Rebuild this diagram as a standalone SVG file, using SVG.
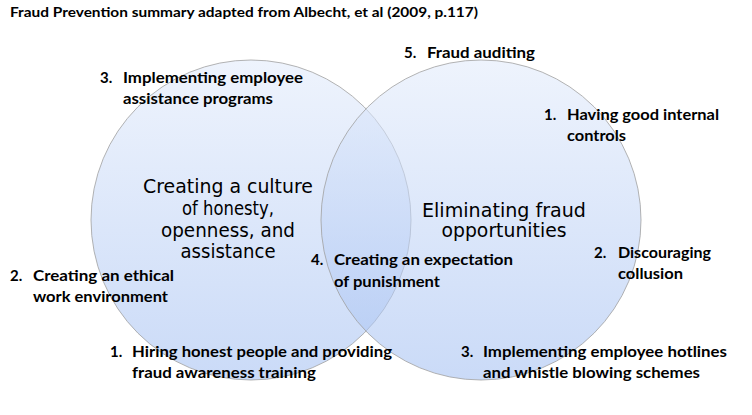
<svg xmlns="http://www.w3.org/2000/svg" width="752" height="415" viewBox="0 0 752 415">
  <defs>
    <linearGradient id="blueFill" x1="0" y1="0" x2="0" y2="1">
      <stop offset="0" stop-color="#e2ebfb"/>
      <stop offset="1" stop-color="#a4c0f2"/>
    </linearGradient>
    <style>
      .circle { fill: url(#blueFill); fill-opacity: 0.58; stroke: #a0a0a0; stroke-width: 0.8; }
      .lbl { font-family: Lato, "Open Sans", "Liberation Sans", sans-serif; font-weight: bold; font-size: 15px; fill: #000; }
      .title { font-family: Lato, "Open Sans", "Liberation Sans", sans-serif; font-weight: bold; font-size: 14px; fill: #000; }
      .center { font-family: "DejaVu Sans", Verdana, sans-serif; font-size: 19px; fill: #000; text-anchor: middle; }
    </style>
  </defs>
  <rect width="752" height="415" fill="#ffffff"/>

  <text class="title" x="10" y="17" textLength="468" lengthAdjust="spacingAndGlyphs">Fraud Prevention summary adapted from Albecht, et al (2009, p.117)</text>

  <g id="node-culture">
    <circle class="circle" cx="251" cy="220" r="160"/>
    <text class="center" x="228" y="193" textLength="170" lengthAdjust="spacingAndGlyphs">Creating a culture</text>
    <text class="center" x="228" y="215" textLength="92" lengthAdjust="spacingAndGlyphs">of honesty,</text>
    <text class="center" x="228" y="237" textLength="134" lengthAdjust="spacingAndGlyphs">openness, and</text>
    <text class="center" x="228" y="258" textLength="95" lengthAdjust="spacingAndGlyphs">assistance</text>
  </g>

  <g id="node-opportunities">
    <circle class="circle" cx="481" cy="220" r="160"/>
    <text class="center" x="504" y="217" textLength="164" lengthAdjust="spacingAndGlyphs">Eliminating  fraud</text>
    <text class="center" x="504" y="237" textLength="125" lengthAdjust="spacingAndGlyphs">opportunities</text>
  </g>

  <g id="connectors"/>

  <g id="label-assistance-programs">
    <text class="lbl" x="100" y="83">3.</text>
    <text class="lbl" x="123" y="83" textLength="180" lengthAdjust="spacingAndGlyphs">Implementing employee</text>
    <text class="lbl" x="123" y="104" textLength="150" lengthAdjust="spacingAndGlyphs">assistance programs</text>
  </g>

  <g id="label-fraud-auditing">
    <text class="lbl" x="404" y="58">5.</text>
    <text class="lbl" x="427" y="58" textLength="108" lengthAdjust="spacingAndGlyphs">Fraud auditing</text>
  </g>

  <g id="label-internal-controls">
    <text class="lbl" x="544" y="120">1.</text>
    <text class="lbl" x="567" y="120" textLength="152" lengthAdjust="spacingAndGlyphs">Having good internal</text>
    <text class="lbl" x="567" y="141" textLength="59" lengthAdjust="spacingAndGlyphs">controls</text>
  </g>

  <g id="label-ethical-environment">
    <text class="lbl" x="10" y="281">2.</text>
    <text class="lbl" x="33" y="281" textLength="141" lengthAdjust="spacingAndGlyphs">Creating an ethical</text>
    <text class="lbl" x="33" y="302" textLength="135" lengthAdjust="spacingAndGlyphs">work environment</text>
  </g>

  <g id="label-expectation-punishment">
    <text class="lbl" x="311" y="265">4.</text>
    <text class="lbl" x="334" y="265" textLength="179" lengthAdjust="spacingAndGlyphs">Creating an expectation</text>
    <text class="lbl" x="334" y="287" textLength="106" lengthAdjust="spacingAndGlyphs">of punishment</text>
  </g>

  <g id="label-discouraging-collusion">
    <text class="lbl" x="594" y="258">2.</text>
    <text class="lbl" x="618" y="258" textLength="93" lengthAdjust="spacingAndGlyphs">Discouraging</text>
    <text class="lbl" x="618" y="279" textLength="65" lengthAdjust="spacingAndGlyphs">collusion</text>
  </g>

  <g id="label-hiring-honest">
    <text class="lbl" x="110" y="357">1.</text>
    <text class="lbl" x="132" y="357" textLength="260" lengthAdjust="spacingAndGlyphs">Hiring honest people and providing</text>
    <text class="lbl" x="132" y="378" textLength="184" lengthAdjust="spacingAndGlyphs">fraud awareness training</text>
  </g>

  <g id="label-hotlines">
    <text class="lbl" x="461" y="357">3.</text>
    <text class="lbl" x="483" y="357" textLength="244" lengthAdjust="spacingAndGlyphs">Implementing employee hotlines</text>
    <text class="lbl" x="483" y="378" textLength="217" lengthAdjust="spacingAndGlyphs">and whistle blowing schemes</text>
  </g>
</svg>
